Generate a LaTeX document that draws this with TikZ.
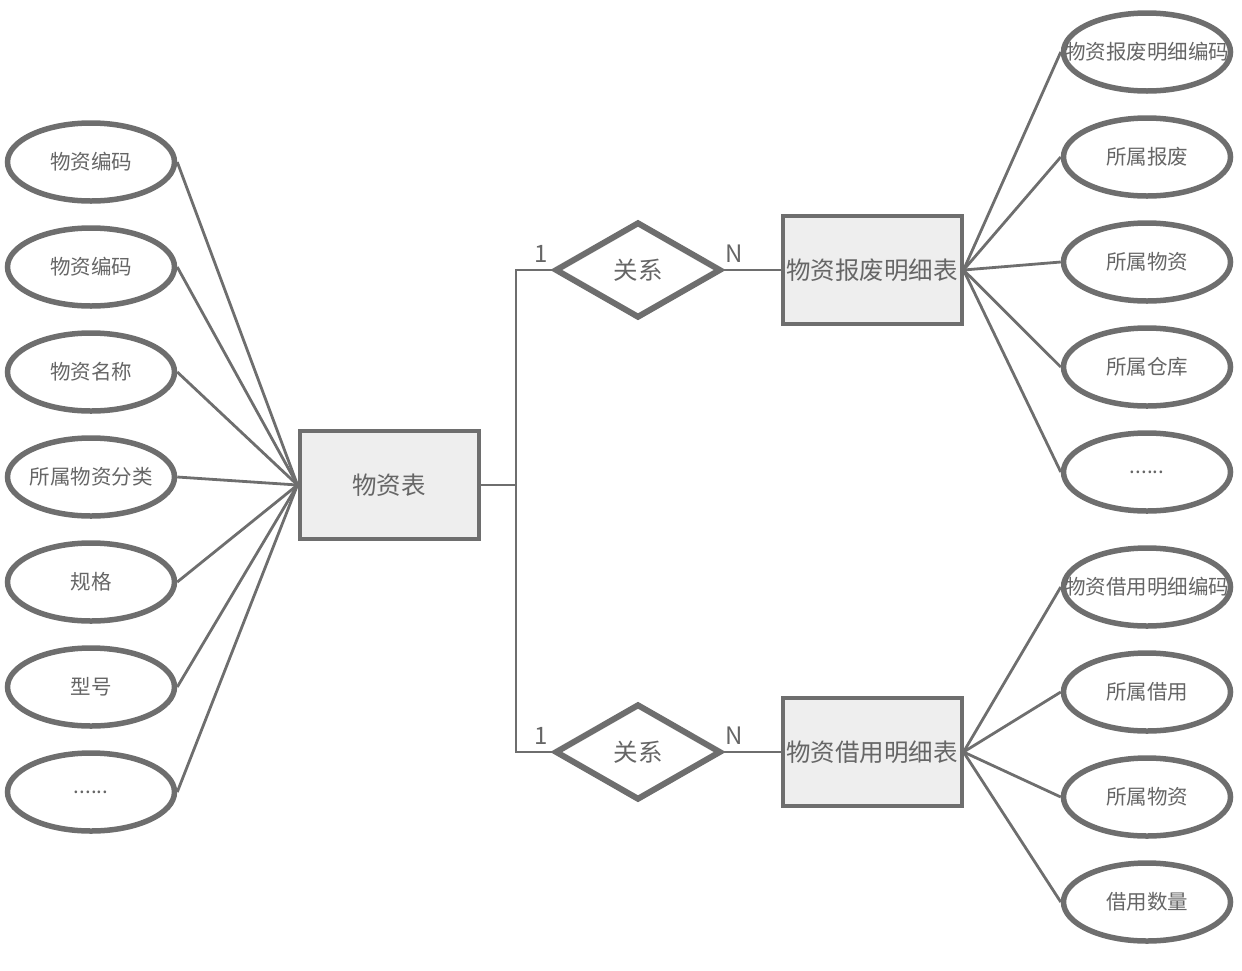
\documentclass[tikz,border=0pt]{standalone}
\usepackage{fontspec}
\setmainfont{Noto Sans CJK SC}
\usetikzlibrary{shapes.geometric}
\definecolor{ln}{HTML}{6E6E6E}
\definecolor{tx}{HTML}{666666}
\definecolor{fillg}{HTML}{EEEEEE}
\tikzset{
  attr/.style={ellipse, draw=ln, line width=5.5pt, minimum width=167pt, minimum height=78pt, inner sep=0pt, text=tx, font=\fontsize{20.5}{24}\selectfont, fill=white},
  ent/.style={rectangle, draw=ln, line width=4pt, fill=fillg, minimum width=179pt, minimum height=108pt, inner sep=0pt, text=tx, font=\fontsize{24.5}{28}\selectfont},
  rel/.style={diamond, draw=ln, line width=6pt, minimum width=166pt, minimum height=96pt, inner sep=0pt, text=tx, font=\fontsize{24.5}{28}\selectfont, fill=white},
  conn/.style={draw=ln, line width=2.8pt},
  card/.style={text=tx, font=\fontsize{24}{28}\selectfont, inner sep=0pt}
}
\begin{document}
\begin{tikzpicture}[x=1pt, y=-1pt]
\useasboundingbox (0,0) rectangle (1242,970);
% left attributes
\node[attr] (a1) at (91,162) {物资编码};
\node[attr] (a2) at (91,267) {物资编码};
\node[attr] (a3) at (91,372) {物资名称};
\node[attr] (a4) at (91,477) {\makebox[100pt][c]{所属物资分类}};
\node[attr] (a5) at (91,582) {规格};
\node[attr] (a6) at (91,687) {型号};
\node[attr] (a7) at (91,792) {......};
% entities
\node[ent] (m) at (389,485) {物资表};
\node[ent] (e1) at (872,270) {\makebox[100pt][c]{物资报废明细表}};
\node[ent] (e2) at (872,752) {\makebox[100pt][c]{物资借用明细表}};
% relations
\node[rel] (d1) at (638,270) {关系};
\node[rel] (d2) at (638,752) {关系};
% right attributes
\node[attr] (b1) at (1147,52) {\makebox[100pt][c]{物资报废明细编码}};
\node[attr] (b2) at (1147,157) {所属报废};
\node[attr] (b3) at (1147,262) {所属物资};
\node[attr] (b4) at (1147,367) {所属仓库};
\node[attr] (b5) at (1147,472) {......};
\node[attr] (c1) at (1147,587) {\makebox[100pt][c]{物资借用明细编码}};
\node[attr] (c2) at (1147,692) {所属借用};
\node[attr] (c3) at (1147,797) {所属物资};
\node[attr] (c4) at (1147,902) {借用数量};
% connectors
\foreach \a in {a1,a2,a3,a4,a5,a6,a7} \draw[conn] (\a.east) -- (m.west);
\foreach \b in {b1,b2,b3,b4,b5} \draw[conn] (e1.east) -- (\b.west);
\foreach \c in {c1,c2,c3,c4} \draw[conn] (e2.east) -- (\c.west);
\coordinate (j) at (516,485);
\draw[conn] (m.east) -- (j) |- (d1.west);
\draw[conn] (j) |- (d2.west);
\draw[conn] (d1.east) -- (e1.west);
\draw[conn] (d2.east) -- (e2.west);
% cardinalities
\node[card] (n1) at (541,254) {1};
\node[card] (n2) at (734,254) {N};
\node[card] (n3) at (541,736) {1};
\node[card] (n4) at (734,736) {N};
\end{tikzpicture}
\end{document}
